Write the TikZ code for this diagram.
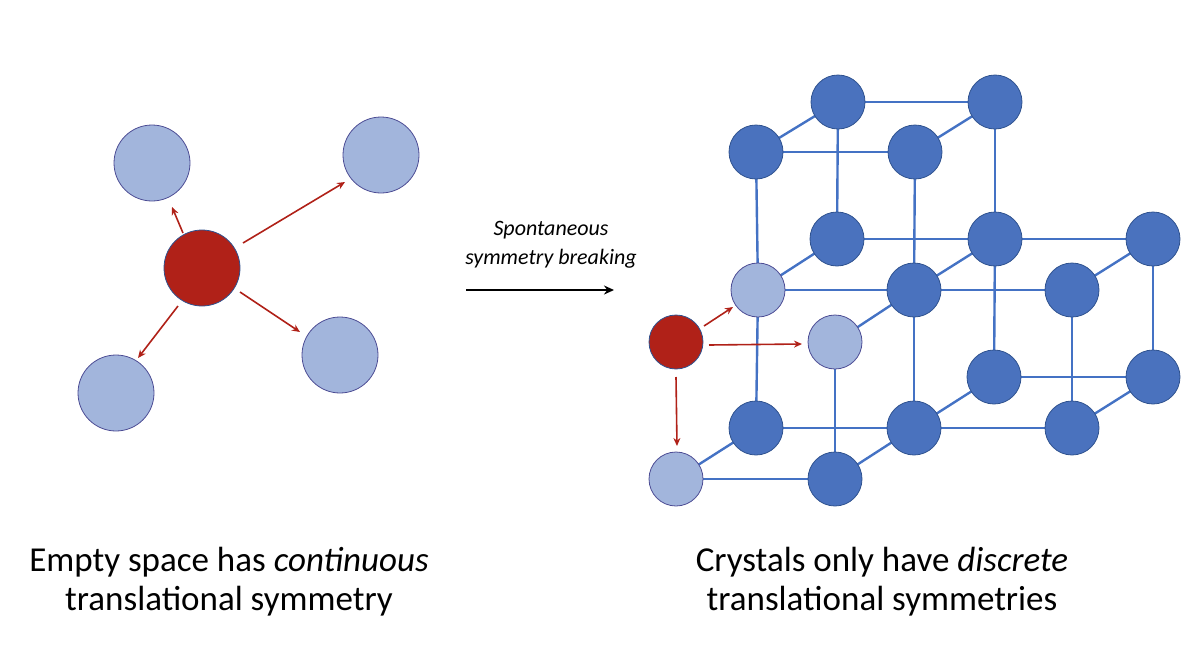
\documentclass[tikz,border=0pt]{standalone}
\usepackage{fontspec}
\setmainfont{Carlito}
\usetikzlibrary{arrows.meta}
\begin{document}
\begin{tikzpicture}[x=1pt,y=-1pt,
  lt/.style={circle,draw=blue!40!black!70,line width=0.8pt,fill={rgb,255:red,162;green,181;blue,220},minimum size=#1,inner sep=0},
  dk/.style={circle,draw={rgb,255:red,47;green,82;blue,143},line width=0.8pt,fill={rgb,255:red,74;green,114;blue,190},minimum size=54,inner sep=0},
  rd/.style={circle,draw={rgb,255:red,47;green,82;blue,143},line width=0.8pt,fill={rgb,255:red,176;green,33;blue,24},minimum size=#1,inner sep=0},
  ed/.style={draw={rgb,255:red,68;green,114;blue,196},line width=2.4pt},
  ra/.style={draw={rgb,255:red,176;green,33;blue,24},line width=1.6pt,-{Stealth[length=8pt,width=7pt]}}]
\useasboundingbox (0,0) rectangle (1200,664);
% left
\node[rd=76] (c) at (202,268) {};
\node[lt=76] (l1) at (152,163) {};
\node[lt=76] (l2) at (381,155) {};
\node[lt=76] (l3) at (340,355) {};
\node[lt=76] (l4) at (116,393) {};
\coordinate (a1s) at (183,233); \coordinate (a1e) at (172,207);
\coordinate (a2s) at (243,243); \coordinate (a2e) at (345,182);
\coordinate (a3s) at (240,292); \coordinate (a3e) at (300,332);
\coordinate (a4s) at (178,306); \coordinate (a4e) at (138,358);
\draw[ra] (a1s)--(a1e); \draw[ra] (a2s)--(a2e); \draw[ra] (a3s)--(a3e); \draw[ra] (a4s)--(a4e);
% middle
\node[font=\itshape\fontsize{22}{29}\selectfont,align=center] (sb) at (551,245) {Spontaneous\\symmetry breaking};
\coordinate (m1) at (466,290); \coordinate (m2) at (614,290);
\draw[line width=2.2pt,-{Stealth[length=10pt,width=9pt]}] (m1)--(m2);
% crystal coordinates
\coordinate (A) at (838,102); \coordinate (B) at (995,102);
\coordinate (C) at (756,152); \coordinate (D) at (915,152);
\coordinate (E) at (837,239); \coordinate (F) at (995,239); \coordinate (G) at (1153,239);
\coordinate (H) at (758,290); \coordinate (I) at (914,290); \coordinate (J) at (1072,290);
\coordinate (K) at (835,342); \coordinate (R0) at (676,342);
\coordinate (L) at (994,377); \coordinate (M) at (1153,377);
\coordinate (N) at (756,428); \coordinate (O) at (914,428); \coordinate (P) at (1072,428);
\coordinate (Q) at (676,479); \coordinate (R) at (835,479);
\foreach \u/\v in {A/B,A/C,B/D,C/D,A/E,B/F,C/H,D/I,E/F,F/G,E/H,F/I,G/J,H/I,I/J,H/N,I/O,J/P,G/M,F/L,L/M,K/I,K/R,L/O,M/P,N/O,O/P,N/Q,Q/R,R/O}
  \draw[ed] (\u)--(\v);
\foreach \n in {A,B,C,D,E,F,G,J,L,M,N,O,P,R,I}
  \node[dk] (n\n) at (\n) {};
\node[lt=54] (nH) at (H) {};
\node[lt=54] (nK) at (K) {};
\node[lt=54] (nQ) at (Q) {};
\node[rd=54] (nR0) at (R0) {};
\coordinate (b1s) at (704,326); \coordinate (b1e) at (733,307);
\coordinate (b2s) at (709,345); \coordinate (b2e) at (802,344);
\coordinate (b3s) at (676,377); \coordinate (b3e) at (677,446);
\draw[ra] (b1s)--(b1e); \draw[ra] (b2s)--(b2e); \draw[ra] (b3s)--(b3e);
% captions
\node[font=\fontsize{35}{39}\selectfont,align=center] (t1) at (229,582) {Empty space has \textit{continuous}\\translational symmetry};
\node[font=\fontsize{35}{39}\selectfont,align=center] (t2) at (882,582) {Crystals only have \textit{discrete}\\translational symmetries};
\end{tikzpicture}
\end{document}
